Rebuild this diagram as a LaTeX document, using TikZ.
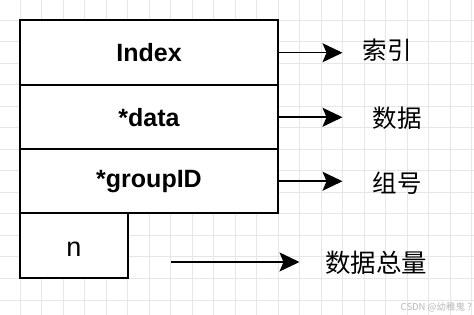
\documentclass[tikz,border=0pt]{standalone}
\usepackage{fontspec}
\setmainfont{Liberation Sans}
\newfontfamily\cjk{Noto Sans CJK SC}
\usetikzlibrary{arrows.meta}
\definecolor{GridGray}{HTML}{E6E6E6}
\definecolor{MarkGray}{HTML}{B8B8B8}

\begin{document}
\begin{tikzpicture}[x=1pt,y=-1pt,
    field/.style={draw=black,line width=2pt,fill=white,inner sep=0pt,outer sep=0pt,
                  minimum width=258pt,minimum height=64.5pt,
                  font=\fontsize{25}{30}\selectfont\bfseries},
    countbox/.style={draw=black,line width=2pt,fill=white,inner sep=0pt,outer sep=0pt,
                  minimum width=108pt,minimum height=64.5pt,text height=22pt,text depth=0pt,
                  font=\fontsize{27}{30}\selectfont},
    meaning/.style={font=\cjk\fontsize{24.5}{28}\selectfont,inner sep=0pt},
    pointer/.style={-{Stealth[length=20pt,width=19pt,inset=4pt]},line width=1.5pt}]
    \useasboundingbox (0,0) rectangle (474,315);
    \fill[white] (0,0) rectangle (474,315);
    % background grid
    \foreach \gx in {-1.5,20,...,472}
      \draw[GridGray,line width=1pt] (\gx,0) -- (\gx,315);
    \foreach \gy in {-1,20.5,...,302}
      \draw[GridGray,line width=1pt] (0,\gy) -- (474,\gy);
    % structure fields
    \node[field] (idx) at (149,52.75) {Index};
    \node[field] (dat) at (149,117.25) {*data};
    \node[field] (grp) at (149,181.25) {*groupID};
    \node[countbox] (cnt) at (74,245.5) {n};
    % meanings
    \node[meaning] (idxlbl) at (387,50) {索引};
    \node[meaning] (datlbl) at (397,118) {数据};
    \node[meaning] (grplbl) at (397,183) {组号};
    \node[meaning,font=\cjk\fontsize{25.5}{28}\selectfont] (cntlbl) at (376,263) {数据总量};
    \coordinate (idxend) at (342.5,52.75);
    \coordinate (datend) at (342.5,117.25);
    \coordinate (grpend) at (342.5,181.25);
    \coordinate (cntstart) at (171,262);
    \coordinate (cntend) at (299.5,262);
    \draw[pointer] (idx.east) -- (idxend);
    \draw[pointer] (dat.east) -- (datend);
    \draw[pointer] (grp.east) -- (grpend);
    \draw[pointer] (cntstart) -- (cntend);
    \node[font=\cjk\fontsize{9.5}{11}\selectfont,text=MarkGray,anchor=east,inner sep=0pt]
      (mark) at (472,307) {CSDN @幼稚鬼 ?};
\end{tikzpicture}
\end{document}
